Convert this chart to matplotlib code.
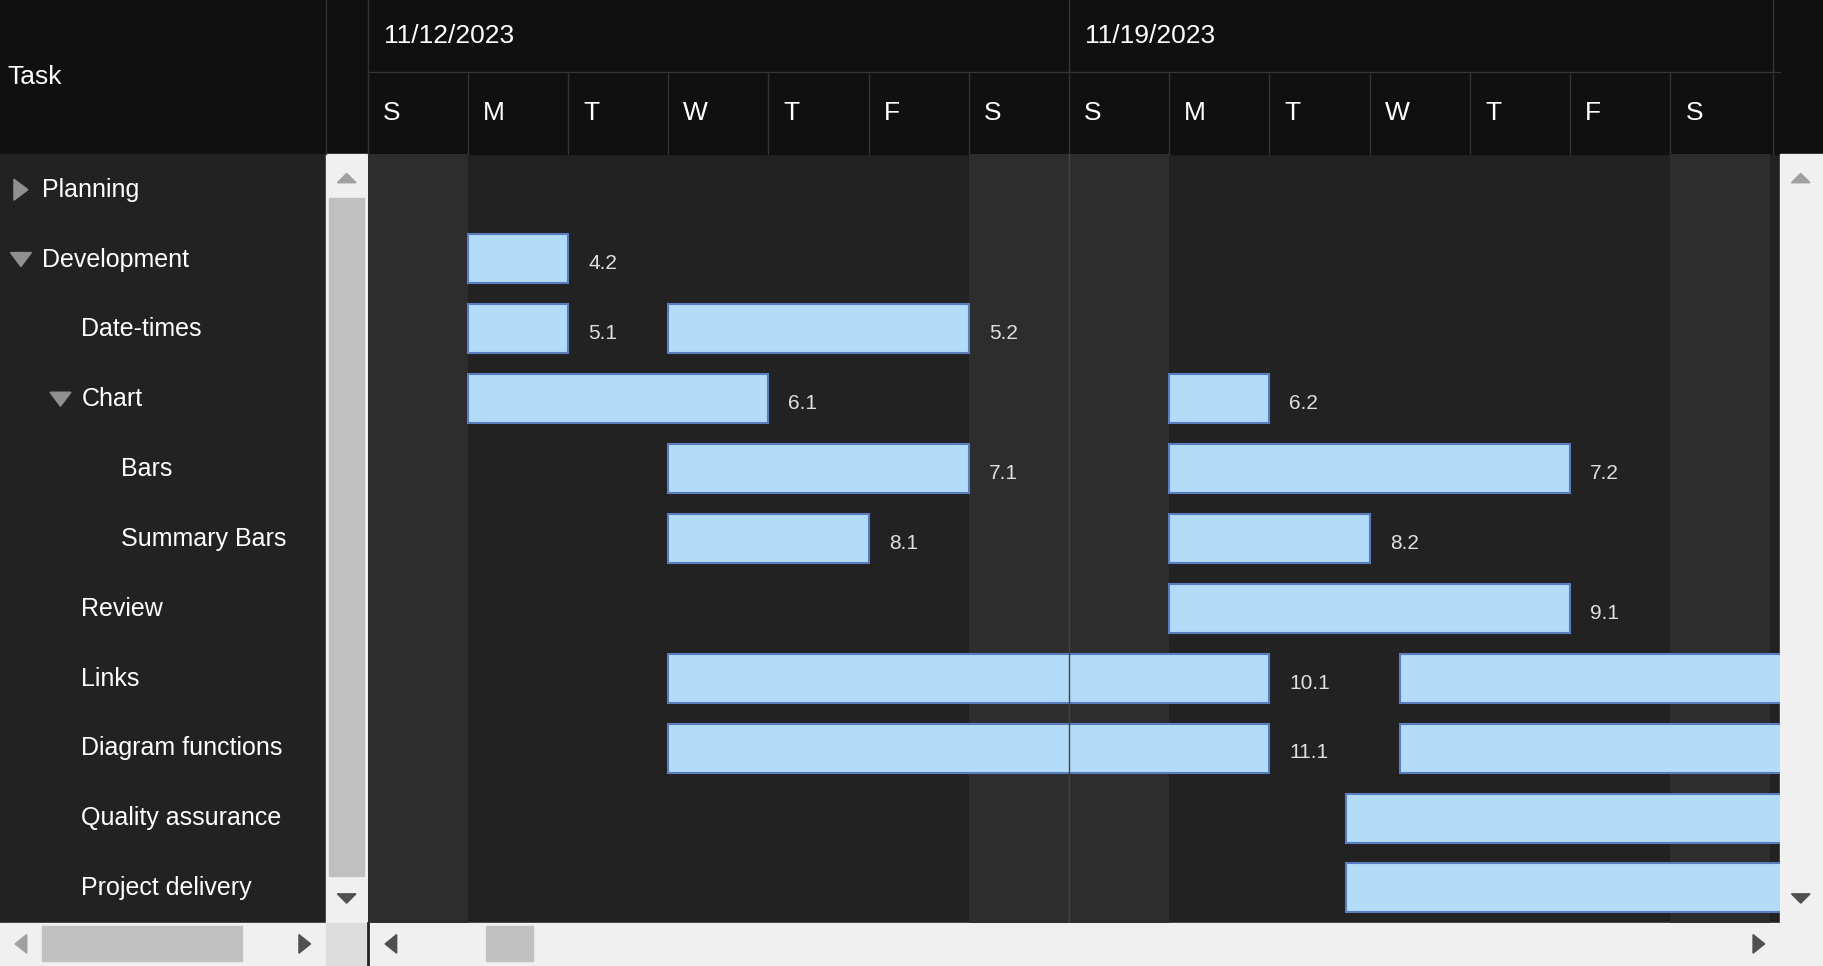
import matplotlib
matplotlib.use("Agg")
import matplotlib.pyplot as plt
from matplotlib.patches import Rectangle, Polygon

plt.rcParams['font.family'] = ['Liberation Sans', 'DejaVu Sans']

tasks = ["Planning", "Development", "Date-times", "Chart", "Bars", "Summary Bars",
         "Review", "Links", "Diagram functions", "Quality assurance", "Project delivery"]
indent = [0, 0, 1, 1, 2, 2, 1, 1, 1, 1, 1]
arrow = ["right", "down", None, "down", None, None, None, None, None, None, None]
day_letters = ["S", "M", "T", "W", "T", "F", "S", "S", "M", "T", "W", "T", "F", "S"]
weeks = ["11/12/2023", "11/19/2023"]
weekend_days = [0, 6, 7, 13]
# (row, start day, end day, label)
bars = [(1, 1, 2, "4.2"), (2, 1, 2, "5.1"), (2, 3, 6, "5.2"),
        (3, 1, 4, "6.1"), (3, 8, 9, "6.2"), (4, 3, 6, "7.1"), (4, 8, 12, "7.2"),
        (5, 3, 5, "8.1"), (5, 8, 10, "8.2"), (6, 8, 12, "9.1"),
        (7, 3, 9, "10.1"), (7, 10.3, 15, ""), (8, 3, 9, "11.1"), (8, 10.3, 15, ""),
        (9, 9.76, 15, ""), (10, 9.76, 15, "")]

W, H = 1568.0, 830.0
fig = plt.figure(figsize=(18.24, 9.66), dpi=100, facecolor="#222222")

def frac(x0, y0, x1, y1):
    return [x0 / W, 1 - y1 / H, (x1 - x0) / W, (y1 - y0) / H]

# base pixel canvas for chrome
base = fig.add_axes([0, 0, 1, 1])
base.set_xlim(0, W); base.set_ylim(H, 0); base.axis("off")
base.add_patch(Rectangle((0, 0), W, 132, color="#101010"))
base.add_patch(Rectangle((0, 132), 280, 661, color="#222222"))
base.add_patch(Rectangle((280, 0), 36, 132, color="#101010"))
base.plot([280, 280], [0, 132], color="#333333", lw=1)
base.plot([316, 1530], [62, 62], color="#333333", lw=1)
base.text(6, 66, "Task", color="white", fontsize=19, va="center")
dw = (919 - 316) / 7
for i, w in enumerate(weeks):
    x = 316 + i * 7 * dw
    base.plot([x, x], [0, 62], color="#333333", lw=1)
    base.text(x + 14, 31, w, color="white", fontsize=19, va="center")
base.plot([1524, 1524], [0, 132], color="#333333", lw=1)
for i, d in enumerate(day_letters):
    x = 316 + i * dw
    base.plot([x, x], [62, 132], color="#333333", lw=1)
    base.text(x + 13, 97, d, color="white", fontsize=19, va="center")
for i, (t, ind, a) in enumerate(zip(tasks, indent, arrow)):
    y = 163 + i * 60
    x = 36 + ind * 34
    base.text(x, y, t, color="white", fontsize=18, va="center")
    if a == "right":
        base.add_patch(Polygon([[x - 24, y - 9], [x - 24, y + 9], [x - 12, y]], color="#909090"))
    elif a == "down":
        base.add_patch(Polygon([[x - 27, y - 6], [x - 9, y - 6], [x - 18, y + 6]], color="#909090"))

# scrollbars
for x0 in (280, 1530):
    base.add_patch(Rectangle((x0, 132), 38 if x0 == 1530 else 36, 661, color="#f0f0f0"))
    cx = x0 + 18
    base.add_patch(Polygon([[cx - 8, 157], [cx + 8, 157], [cx, 149]], color="#a0a0a0"))
    base.add_patch(Polygon([[cx - 8, 768], [cx + 8, 768], [cx, 776]], color="#505050"))
base.add_patch(Rectangle((283, 170), 30, 583, color="#c0c0c0"))
base.add_patch(Rectangle((0, 793), W, 37, color="#f0f0f0"))
base.plot([316, 316], [793, 830], color="#222222", lw=2)
base.add_patch(Rectangle((36, 796), 172, 30, color="#c0c0c0"))
base.add_patch(Rectangle((418, 796), 40, 30, color="#c0c0c0"))
base.add_patch(Rectangle((280, 793), 36, 37, color="#dcdcdc"))
for cx, s in [(18, -1), (262, 1), (336, -1), (1512, 1)]:
    base.add_patch(Polygon([[cx - 5 * s, 803], [cx - 5 * s, 819], [cx + 5 * s, 811]],
                           color="#a0a0a0" if cx == 18 else "#505050"))

# timeline
ax = fig.add_axes(frac(316, 132, 1530, 793))
ax.set_xlim(0, (1530 - 316) / dw)
ax.set_ylim(len(tasks) - 0.5, -0.5)
ax.set_facecolor("#222222")
ax.axis("off")
for d in weekend_days:
    ax.axvspan(d, d + 1, color="#2d2d2d", lw=0)
ax.axvline(7, color="#444444", lw=1)
for row, s, e, lab in bars:
    ax.barh(row, e - s, left=s, height=0.7, color="#b3dcf8", edgecolor="#5a7dc0", lw=1.5)
    if lab:
        ax.text(e + 0.2, row + 0.07, lab, color="#e0e0e0", fontsize=15, va="center")

fig.savefig("out.png", dpi=100, facecolor=fig.get_facecolor())
